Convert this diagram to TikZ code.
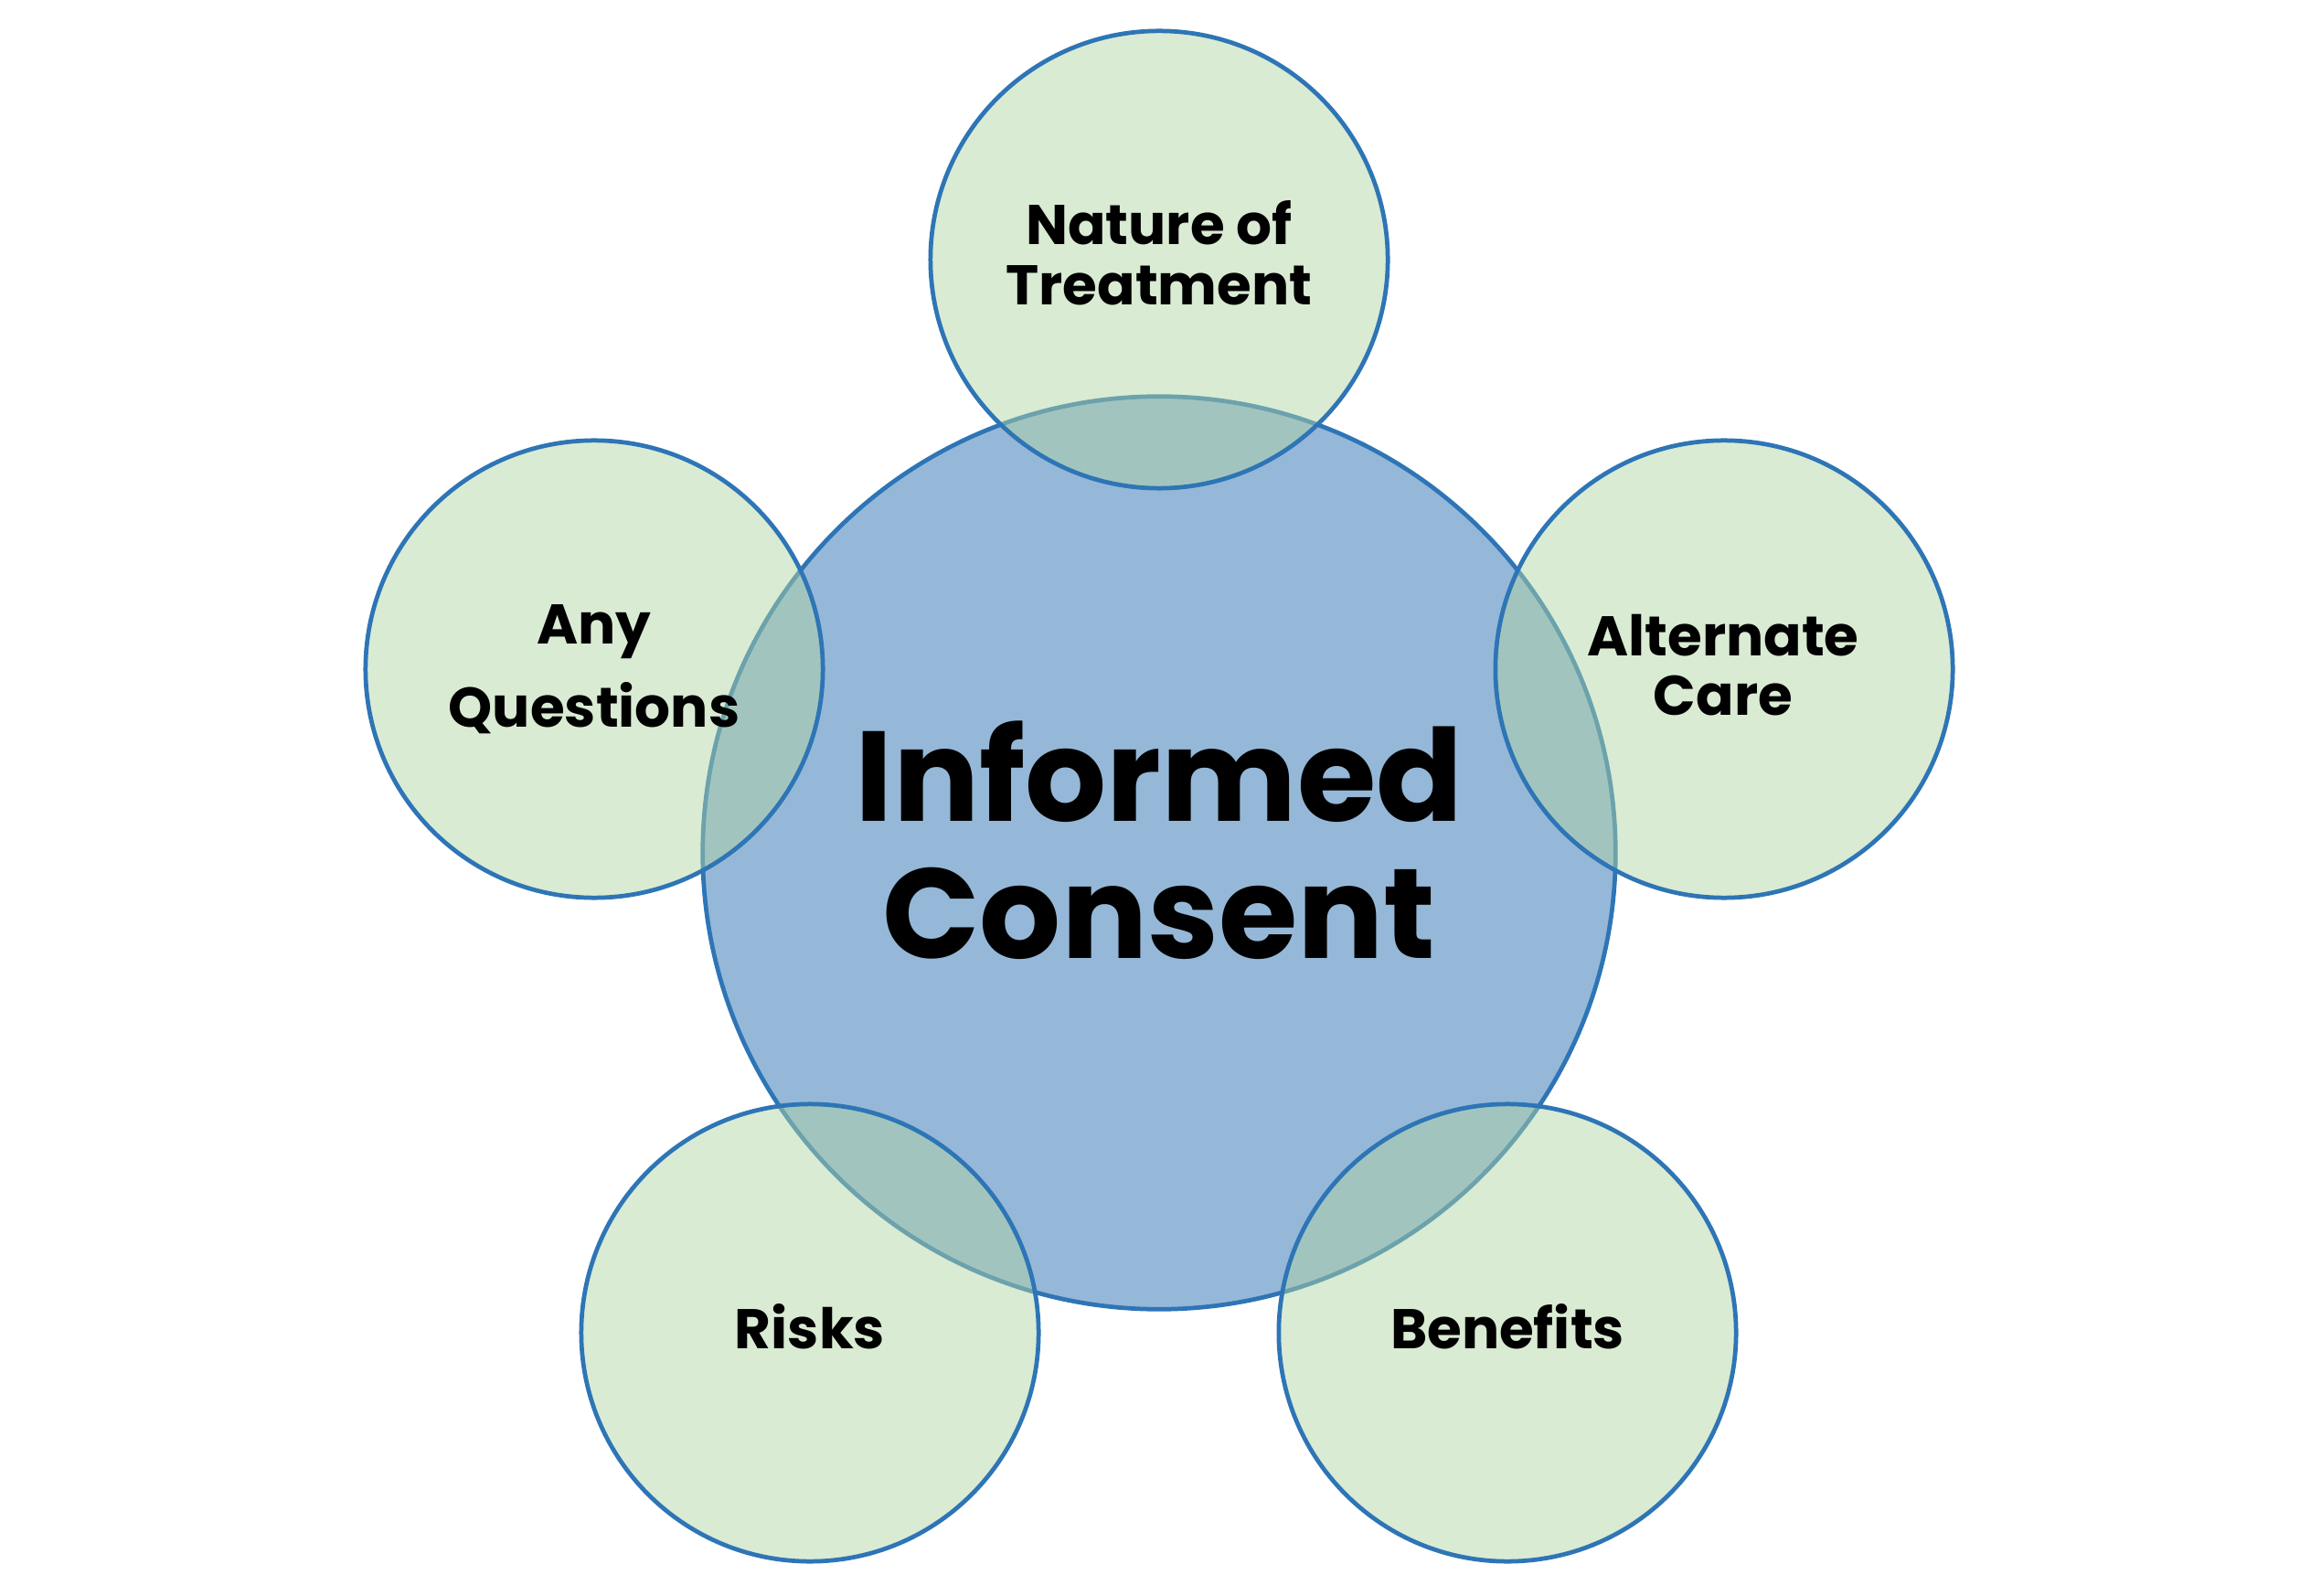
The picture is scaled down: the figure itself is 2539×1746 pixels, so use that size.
\documentclass[tikz,border=0pt]{standalone}
\usepackage{fontspec}
\setmainfont{Poppins}
\definecolor{edgeblue}{RGB}{46,117,182}
\definecolor{bigfill}{RGB}{149,184,216}
\definecolor{smallfill}{RGB}{176,213,163}
\begin{document}
\begin{tikzpicture}[x=0.01cm,y=-0.01cm,
  bigc/.style={circle,draw=edgeblue,line width=1.35pt,fill=bigfill,minimum size=9.98cm,inner sep=0pt},
  smallc/.style={circle,draw=edgeblue,line width=1.35pt,fill=smallfill,fill opacity=0.48,draw opacity=1,minimum size=5cm,inner sep=0pt},
  lbl/.style={anchor=base,inner sep=0pt,font=\fontsize{17.4pt}{20pt}\selectfont\bfseries},
  biglbl/.style={anchor=base,inner sep=0pt,font=\fontsize{39.8pt}{44pt}\selectfont\bfseries}]
\useasboundingbox (0,0) rectangle (2539,1746);
\node[bigc] (center) at (1268,933) {};
\node[smallc] (nature) at (1268,284) {};
\node[smallc] (questions) at (650,732) {};
\node[smallc] (alternate) at (1886,732) {};
\node[smallc] (risks) at (886,1458) {};
\node[smallc] (benefits) at (1649,1458) {};
\node[biglbl] (t1) at (1268,898) {Informed};
\node[biglbl] (t2) at (1268,1048) {Consent};
\node[lbl] (n1) at (1268,268) {Nature of};
\node[lbl] (n2) at (1268,334) {Treatment};
\node[lbl] (q1) at (650,705) {Any};
\node[lbl] (q2) at (650,795) {Questions};
\node[lbl] (a1) at (1885,718) {Alternate};
\node[lbl] (a2) at (1885,783) {Care};
\node[lbl] (r1) at (886,1475) {Risks};
\node[lbl] (b1) at (1649,1475) {Benefits};
\end{tikzpicture}
\end{document}
